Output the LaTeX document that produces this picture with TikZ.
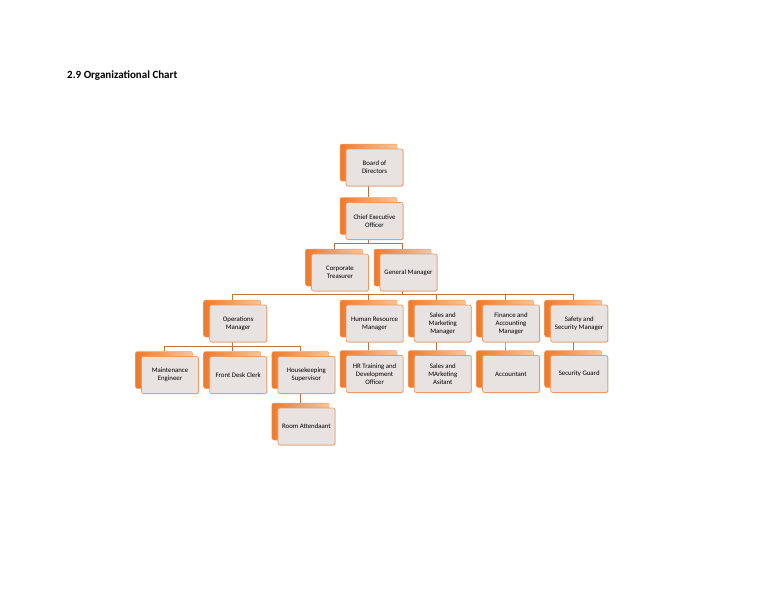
\documentclass[tikz,border=0pt]{standalone}
\usepackage{fontspec}
\setmainfont{Carlito}
\usetikzlibrary{shadows}
\pgfdeclarelayer{bg}
\pgfsetlayers{bg,main}
\definecolor{orgfront}{HTML}{E8E2E0}
\definecolor{orgborder}{HTML}{EE9A62}
\definecolor{orgback}{HTML}{EE7A2A}
\definecolor{orgbacklight}{HTML}{FAC498}
\definecolor{orgline}{HTML}{C0713E}
\tikzset{
  frontbox/.style={draw=orgborder, line width=0.7pt, fill=orgfront, rounded corners=2pt,
    minimum width=57pt, minimum height=37pt, inner sep=1pt, align=center,
    font=\fontsize{6.8}{8}\selectfont,
    drop shadow={shadow xshift=0.8pt, shadow yshift=-0.8pt, opacity=0.25}},
  backbox/.style={draw=orgback!70, line width=0.5pt, left color=orgback, right color=orgbacklight,
    rounded corners=2pt, minimum width=57pt, minimum height=37pt, inner sep=0pt},
  conn/.style={draw=orgline, line width=0.8pt},
  titletext/.style={font=\bfseries\fontsize{11}{13}\selectfont, inner sep=0pt, anchor=base west}
}
\newcommand\orgunit[4]{%
  \node[backbox] (#1-b) at (#2-6,#3-5) {};
  \node[frontbox] (#1) at (#2,#3) {#4};
}
\newcommand\orgconn[2]{%
  \draw[conn] (#1-b.south) |- ([yshift=5pt]#2-b.north) -- (#2-b.north);
}
\begin{document}
\begin{tikzpicture}[x=1pt,y=-1pt]
\useasboundingbox (0,0) rectangle (768,594);
\node[titletext] (title) at (67,78.4) {2.9 Organizational Chart};
% level 1-3
\orgunit{bod}{374.5}{167.5}{Board of\\Directors}
\orgunit{ceo}{374.5}{221}{Chief Executive\\Officer}
\orgunit{ct}{340}{272.5}{Corporate\\Treasurer}
\orgunit{gm}{408.5}{272.5}{General Manager}
% level 4
\orgunit{ops}{238.2}{323.5}{Operations\\Manager}
\orgunit{hr}{374.6}{323.5}{Human Resource\\Manager}
\orgunit{sm}{442.8}{323.5}{Sales and\\Marketing\\Manager}
\orgunit{fa}{511}{323.5}{Finance and\\Accounting\\Manager}
\orgunit{ss}{579.2}{323.5}{Safety and\\Security Manager}
% level 5
\orgunit{me}{170}{375}{Maintenance\\Engineer}
\orgunit{fd}{238.2}{375}{Front Desk Clerk}
\orgunit{hk}{306.4}{375}{Housekeeping\\Supervisor}
\orgunit{hrt}{374.6}{374}{HR Training and\\Development\\Officer}
\orgunit{sma}{442.8}{374}{Sales and\\MArketing\\Asitant}
\orgunit{acc}{511}{374}{Accountant}
\orgunit{sg}{579.2}{374}{Security Guard}
% level 6
\orgunit{ra}{306.4}{426.5}{Room Attendaant}
\begin{pgfonlayer}{bg}
\orgconn{bod}{ceo}
\orgconn{ceo}{ct}
\orgconn{ceo}{gm}
\orgconn{gm}{ops}
\orgconn{gm}{hr}
\orgconn{gm}{sm}
\orgconn{gm}{fa}
\orgconn{gm}{ss}
\orgconn{ops}{me}
\orgconn{ops}{fd}
\orgconn{ops}{hk}
\orgconn{hk}{ra}
\orgconn{hr}{hrt}
\orgconn{sm}{sma}
\orgconn{fa}{acc}
\orgconn{ss}{sg}
\end{pgfonlayer}
\end{tikzpicture}
\end{document}
